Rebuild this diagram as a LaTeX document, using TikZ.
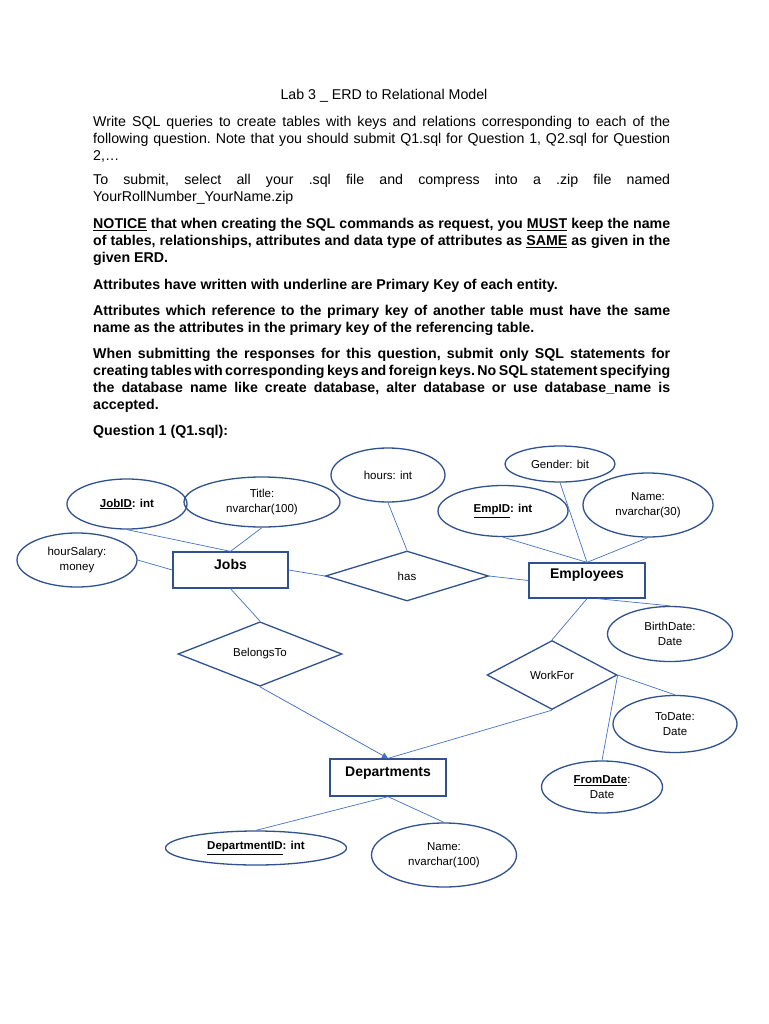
\documentclass[tikz,border=0pt]{standalone}
\usepackage{fontspec}
\setmainfont{Liberation Sans}
\usetikzlibrary{shapes.geometric,arrows.meta}
\definecolor{outl}{HTML}{2F528F}
\definecolor{conn}{HTML}{4472C4}
\newcommand{\bodyfont}{\fontsize{14.2}{17}\selectfont\frenchspacing\spaceskip=0.278em plus 0.6em minus 0.12em\relax}
\begin{document}
\begin{tikzpicture}[x=1pt,y=-1pt,
 attr/.style={ellipse,draw=outl,line width=1.3pt,inner sep=0pt,align=center,font=\fontsize{11.5}{15}\selectfont},
 rel/.style={diamond,draw=outl,line width=1.3pt,inner sep=0pt,font=\fontsize{11.5}{15}\selectfont},
 ent/.style={rectangle,draw=outl,line width=1.3pt,inner sep=0pt},
 etext/.style={inner sep=0pt,font=\fontsize{14}{16}\selectfont\bfseries},
 link/.style={draw=conn,line width=0.7pt},
 para/.style={anchor=base west,inner sep=0pt,text width=577pt,align=justify,font=\bodyfont},
 parab/.style={para,font=\bodyfont\bfseries}
]
\useasboundingbox[fill=white] (0,0) rectangle (768,1024);

% ---------- text ----------
\node[anchor=base,inner sep=0pt,font=\bodyfont] (ttl) at (384,100) {Lab 3 \_ ERD to Relational Model};
\node[para] (p1) at (93,127) {Write SQL queries to create tables with keys and relations corresponding to each of the\linebreak following question. Note that you should submit Q1.sql for Question 1, Q2.sql for Question\linebreak 2,…};
\node[para] (p2) at (93,185) {To submit, select all your .sql file and compress into a .zip file named\linebreak YourRollNumber\_YourName.zip};
\node[parab] (p3) at (93,229) {\underline{NOTICE} that when creating the SQL commands as request, you \underline{MUST} keep the name\linebreak of tables, relationships, attributes and data type of attributes as \underline{SAME} as given in the\linebreak given ERD.};
\node[parab] (p4) at (93,289) {Attributes have written with underline are Primary Key of each entity.};
\node[parab] (p5) at (93,315) {Attributes which reference to the primary key of another table must have the same\linebreak name as the attributes in the primary key of the referencing table.};
\node[parab] (p6) at (93,358) {When submitting the responses for this question, submit only SQL statements for\linebreak {\spaceskip=0.15em plus 0.1em minus 0.1em creating tables with corresponding keys and foreign keys. No SQL statement specifying}\linebreak the database name like create database, alter database or use database\_name is\linebreak accepted.};
\node[parab] (p7) at (93,435) {Question 1 (Q1.sql):};

% ---------- entities ----------
\node[ent,minimum width=115,minimum height=36] (jobs) at (230.5,570) {};
\node[etext] (jobsl) at (230.5,564) {Jobs};
\node[ent,minimum width=116,minimum height=35] (emp) at (587,580.5) {};
\node[etext] (empl) at (587,575) {Employees};
\node[ent,minimum width=116,minimum height=37] (dept) at (388,777.5) {};
\node[etext] (deptl) at (388,773) {Departments};

% ---------- relationships ----------
\node[rel,minimum width=163,minimum height=50] (has) at (407,576) {has};
\node[rel,minimum width=130,minimum height=69] (workfor) at (552,675) {WorkFor};
\node[rel,minimum width=164,minimum height=50] (belongs) at (260,654) {BelongsTo};

% ---------- attributes ----------
\node[attr,minimum width=114,minimum height=54] (hours) at (388,475) {hours: int};
\node[attr,minimum width=110,minimum height=36] (gender) at (560,464) {Gender: bit};
\node[attr,minimum width=120,minimum height=50] (jobid) at (127,504) {\textbf{\underline{JobID}: int}};
\node[attr,minimum width=156,minimum height=50] (jtitle) at (262,502) {Title:\\nvarchar(100)};
\node[attr,minimum width=120,minimum height=54] (hsal) at (77,560) {hourSalary:\\money};
\node[attr,minimum width=130,minimum height=51] (empid) at (503,511) {\textbf{\underline{EmpID}: int}};
\node[attr,minimum width=130,minimum height=64] (ename) at (648,505) {Name:\\nvarchar(30)};
\node[attr,minimum width=125,minimum height=55] (birth) at (670,634) {BirthDate:\\Date};
\node[attr,minimum width=124,minimum height=57] (todate) at (675,724) {ToDate:\\Date};
\node[attr,minimum width=121,minimum height=52] (fromdate) at (602,787) {\textbf{\underline{FromDate}}:\\Date};
\node[attr,minimum width=181,minimum height=34] (deptid) at (256,848) {\textbf{\underline{DepartmentID}: int}};
\node[attr,minimum width=145,minimum height=64] (dname) at (444,855) {Name:\\nvarchar(100)};

% ---------- connectors ----------
\draw[link] (jobid.south) -- (jobs.north);
\draw[link] (jtitle.south) -- (jobs.north);
\draw[link] (hsal.east) -- (jobs.west);
\draw[link] (jobs.east) -- (has.west);
\draw[link] (hours.south) -- (has.north);
\draw[link] (has.east) -- (emp.west);
\draw[link] (empid.south) -- (emp.north);
\draw[link] (gender.south) -- (emp.north);
\draw[link] (ename.south) -- (emp.north);
\draw[link] (emp.south) -- (workfor.north);
\draw[link] (emp.-60) -- (birth.north);
\draw[link] (workfor.east) -- (todate.north);
\draw[link] (workfor.east) -- (fromdate.north);
\draw[link] (workfor.south) -- (dept.north);
\draw[link] (jobs.south) -- (belongs.north);
\draw[link,-{Triangle[length=6pt,width=6pt]},fill=conn] (belongs.south) -- (dept.north);
\draw[link] (dept.south) -- (deptid.north);
\draw[link] (dept.south) -- (dname.north);
\end{tikzpicture}
\end{document}
